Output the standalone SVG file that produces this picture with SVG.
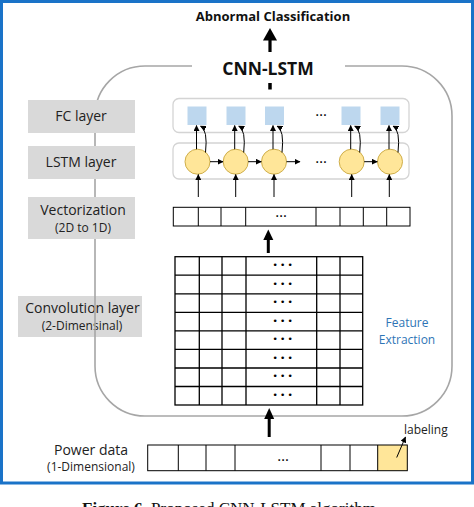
<svg xmlns="http://www.w3.org/2000/svg" width="474" height="507" viewBox="0 0 474 507">
<defs>
<marker id="ah" markerUnits="userSpaceOnUse" markerWidth="6" markerHeight="6" refX="5.5" refY="3" orient="auto"><path d="M0,0 L6,3 L0,6 z" fill="#000"/></marker>
<style>
.lbl{font-family:"Open Sans","Liberation Sans",sans-serif;font-size:14px;fill:#222;text-anchor:middle}
.sub{font-family:"Open Sans","Liberation Sans",sans-serif;font-size:12px;fill:#222;text-anchor:middle}
.lbox{fill:#d9d9d9}
.row{fill:#fff;stroke:#d4d4d4;stroke-width:1.3}
.fc{fill:#bdd7ee}
.cell{fill:#ffe699;stroke:#cfae4a;stroke-width:1}
.thin{stroke:#000;stroke-width:1;fill:none}
.grid{stroke:#000;stroke-width:1.3;fill:none}
.ell{font-family:"Open Sans","Liberation Sans",sans-serif;font-size:15px;fill:#000;text-anchor:middle}
.bul{font-family:"DejaVu Sans",sans-serif;font-size:9px;fill:#000;letter-spacing:2.2px}
</style>
</defs>
<rect x="0" y="0" width="474" height="507" fill="#fff"/>
<rect x="1.5" y="1.5" width="471" height="481.5" fill="none" stroke="#1a73c8" stroke-width="3"/>

<text x="273" y="20.5" font-family="Open Sans, Liberation Sans, sans-serif" font-weight="bold" font-size="13" text-anchor="middle" fill="#111">Abnormal Classification</text>

<g id="conv-label"><rect class="lbox" x="18" y="296" width="124" height="41"/>
<text class="lbl" x="82.5" y="313">Convolution layer</text>
<text class="sub" x="82" y="329.5">(2-Dimensinal)</text></g>

<g id="container">
<path d="M192,66 L145,66 A50,50 0 0 0 95,116 L95,366 A50,50 0 0 0 145,416 L402,416 A50,50 0 0 0 452,366 L452,116 A50,50 0 0 0 402,66 L345,66" fill="none" stroke="#a6a6a6" stroke-width="1.6"/>
<text x="268" y="75" font-family="Open Sans, Liberation Sans, sans-serif" font-weight="bold" font-size="17.5" text-anchor="middle" fill="#111">CNN-LSTM</text>
</g>

<g id="fc-label"><rect class="lbox" x="28" y="100" width="107" height="33"/><text class="lbl" x="81" y="121">FC layer</text></g>
<g id="lstm-label"><rect class="lbox" x="28" y="146" width="107" height="33"/><text class="lbl" x="81" y="167">LSTM layer</text></g>
<g id="vec-label"><rect class="lbox" x="28" y="197" width="107" height="42"/>
<text class="lbl" x="83" y="215">Vectorization</text>
<text class="sub" x="83" y="231.5">(2D to 1D)</text></g>

<g id="fc-row">
<rect class="row" x="173" y="98.5" width="236" height="34" rx="6"/>
<rect class="fc" x="187.5" y="106.5" width="19" height="18.5"/>
<rect class="fc" x="226.5" y="106.5" width="19" height="18.5"/>
<rect class="fc" x="265" y="106.5" width="19" height="18.5"/>
<rect class="fc" x="341.5" y="106.5" width="19" height="18.5"/>
<rect class="fc" x="380.5" y="106.5" width="19" height="18.5"/>
<text class="ell" x="321" y="116">…</text>
</g>

<g id="lstm-row">
<rect class="row" x="173" y="143" width="236" height="36" rx="6"/>
<circle class="cell" cx="197.5" cy="161.7" r="12.5"/>
<circle class="cell" cx="235.7" cy="161.7" r="12.5"/>
<circle class="cell" cx="274" cy="161.7" r="12.5"/>
<circle class="cell" cx="351.7" cy="161.7" r="12.5"/>
<circle class="cell" cx="390" cy="161.7" r="12.5"/>
<text class="ell" x="321" y="163">…</text>
</g>

<g id="vector">
<rect class="thin" x="173.3" y="207.3" width="236.7" height="18.7" stroke-width="1.2"/>
<path class="thin" stroke-width="1.2" d="M198.3,207.3V226 M221,207.3V226 M245.7,207.3V226 M316,207.3V226 M340,207.3V226 M363.3,207.3V226 M386.7,207.3V226"/>
<text class="ell" x="281" y="217">…</text>
</g>

<g id="conv-grid">
<rect class="grid" x="175" y="256.7" width="187.7" height="148.3"/>
<path class="grid" d="M199.3,256.7V405 M222,256.7V405 M246,256.7V405 M316.7,256.7V405 M340,256.7V405 M175,275.2H362.7 M175,293.8H362.7 M175,312.3H362.7 M175,330.9H362.7 M175,349.4H362.7 M175,368H362.7 M175,386.5H362.7"/>
<text class="bul" x="272.5" y="268">•••</text>
<text class="bul" x="272.5" y="286.5">•••</text>
<text class="bul" x="272.5" y="305">•••</text>
<text class="bul" x="272.5" y="323.6">•••</text>
<text class="bul" x="272.5" y="342.1">•••</text>
<text class="bul" x="272.5" y="360.7">•••</text>
<text class="bul" x="272.5" y="379.2">•••</text>
<text class="bul" x="272.5" y="397.8">•••</text>
</g>

<g id="feature-label">
<text class="sub" x="407" y="327" fill="#2e75b6" style="fill:#2e75b6">Feature</text>
<text class="sub" x="407" y="344" style="fill:#2e75b6">Extraction</text>
</g>

<g id="power-data">
<text class="lbl" x="91" y="455">Power data</text>
<text class="sub" x="91" y="470.5">(1-Dimensional)</text>
<rect x="377.7" y="445" width="29.6" height="25.7" fill="#ffe699"/>
<rect class="thin" x="147.7" y="445" width="259.6" height="25.7" stroke-width="1.2"/>
<path class="thin" stroke-width="1.2" d="M178.3,445V470.7 M206,445V470.7 M235,445V470.7 M321,445V470.7 M350,445V470.7 M377.7,445V470.7"/>
<text class="ell" x="283" y="461">…</text>
<text x="404" y="433.5" font-family="Open Sans, Liberation Sans, sans-serif" font-size="12" fill="#222">labeling</text>
</g>

<g id="connectors">
<path d="M270,52V38" stroke="#000" stroke-width="3.2"/>
<path d="M263,40.5 L277,40.5 L270,28 z" fill="#000"/>
<path d="M270,83V89.5" stroke="#000" stroke-width="3.5"/>
<path d="M268.3,253V239" stroke="#000" stroke-width="3"/>
<path d="M263.3,240 L273.3,240 L268.3,229.5 z" fill="#000"/>
<path d="M269.2,437V418" stroke="#000" stroke-width="3"/>
<path d="M264.2,419 L274.2,419 L269.2,408 z" fill="#000"/>
<g class="thin" marker-end="url(#ah)">
<path d="M210,161.7H223"/>
<path d="M248.2,161.7H261.3"/>
<path d="M286.5,161.7H300"/>
<path d="M364.2,161.7H377.3"/>
<path d="M196.5,149.2V125.5"/>
<path d="M234.7,149.2V125.5"/>
<path d="M273,149.2V125.5"/>
<path d="M350.7,149.2V125.5"/>
<path d="M389,149.2V125.5"/>
<path d="M205.5,152.5 Q208,130 200.5,126"/>
<path d="M243.7,152.5 Q246.2,130 238.7,126"/>
<path d="M282,152.5 Q284.5,130 277,126"/>
<path d="M359.7,152.5 Q362.2,130 354.7,126"/>
<path d="M398,152.5 Q400.5,130 393,126"/>
<path d="M198.3,197V174.5"/>
<path d="M235.7,197V174.5"/>
<path d="M274,197V174.5"/>
<path d="M351.7,197V174.5"/>
<path d="M389.3,197V174.5"/>
<path d="M396.7,457.5 L405.5,437"/>
</g>
</g>

<text x="82" y="513.5" font-family="Liberation Serif, serif" font-size="17" fill="#111"><tspan font-weight="bold">Figure 6.</tspan> Proposed CNN-LSTM algorithm</text>
</svg>
